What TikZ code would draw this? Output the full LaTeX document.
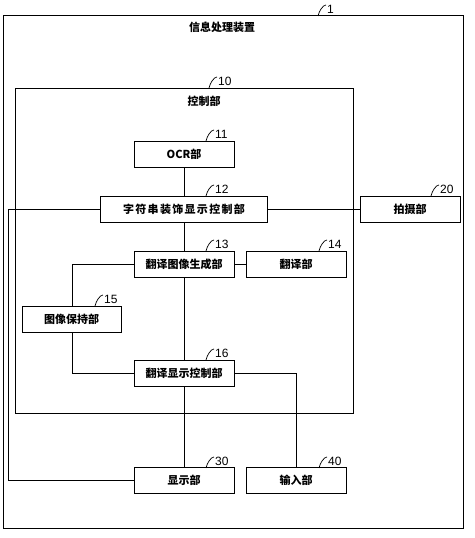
\documentclass[tikz,border=0pt]{standalone}
\usepackage{fontspec}
\setmainfont{Noto Sans CJK SC}
\newfontfamily\numfont{Liberation Sans}
\begin{document}
\begin{tikzpicture}[x=1pt,y=-1pt,
  box/.style={draw, line width=0.9pt, minimum width=100pt, minimum height=26pt, inner sep=0pt, font=\fontsize{11}{12}\selectfont\bfseries},
  conn/.style={line width=0.75pt},
  num/.style={font=\fontsize{12}{12}\selectfont\numfont, inner sep=0pt, anchor=west},
  hook/.style={line width=0.7pt},
  ttl/.style={font=\fontsize{11}{12}\selectfont\bfseries, inner sep=0pt}]
\useasboundingbox (0,0) rectangle (474,538);
% outer frames
\draw[line width=1pt] (3,15) rectangle (463,528);
\draw[line width=0.9pt] (15,88) rectangle (353,413);
\node[ttl] (t1) at (222,27) {信息处理装置};
\node[ttl] (t10) at (204,101) {控制部};
% boxes
\node[box] (b11) at (184,154) {OCR部};
\node[box, minimum width=167pt] (b12) at (184,209) {\addfontfeature{LetterSpace=12}字符串装饰显示控制部};
\node[box] (b20) at (410,209) {拍摄部};
\node[box] (b13) at (184,264) {翻译图像生成部};
\node[box] (b14) at (296,264) {翻译部};
\node[box, minimum width=99pt] (b15) at (71.5,319) {图像保持部};
\node[box] (b16) at (184,373.5) {翻译显示控制部};
\node[box] (b30) at (184,480.5) {显示部};
\node[box] (b40) at (296,480.5) {输入部};
% connectors
\draw[conn] (b11) -- (b12);
\draw[conn] (b12) -- (b13);
\draw[conn] (b13) -- (b16);
\draw[conn] (b16) -- (b30);
\draw[conn] (b12) -- (b20);
\draw[conn] (b13) -- (b14);
\coordinate (c1) at (8,209);
\coordinate (c2) at (8,480.5);
\draw[conn] (b12.west) -- (c1) -- (c2) -- (b30.west);
\coordinate (c3) at (72,264);
\draw[conn] (b13.west) -- (c3) -- (b15.north -| c3);
\coordinate (c4) at (72,373.5);
\draw[conn] (b15.south -| c4) -- (c4) -- (b16.west);
\coordinate (c5) at (296,373.5);
\draw[conn] (b16.east) -- (c5) -- (b40.north);
% numbers
\foreach \n/\x/\y in {1/327/9, 10/218/81, 11/215/134, 12/215/189, 13/215/244, 14/328/244, 15/104/299, 16/215/353, 20/440/189, 30/215/461, 40/328/461}{
  \node[num] (n\n) at (\x,\y) {\n};
  \draw[hook] ([shift={(-9,7)}]n\n.west) .. controls +(1,-5) and +(-3,0) .. ([shift={(-1,-4)}]n\n.west);
}
\end{tikzpicture}
\end{document}
